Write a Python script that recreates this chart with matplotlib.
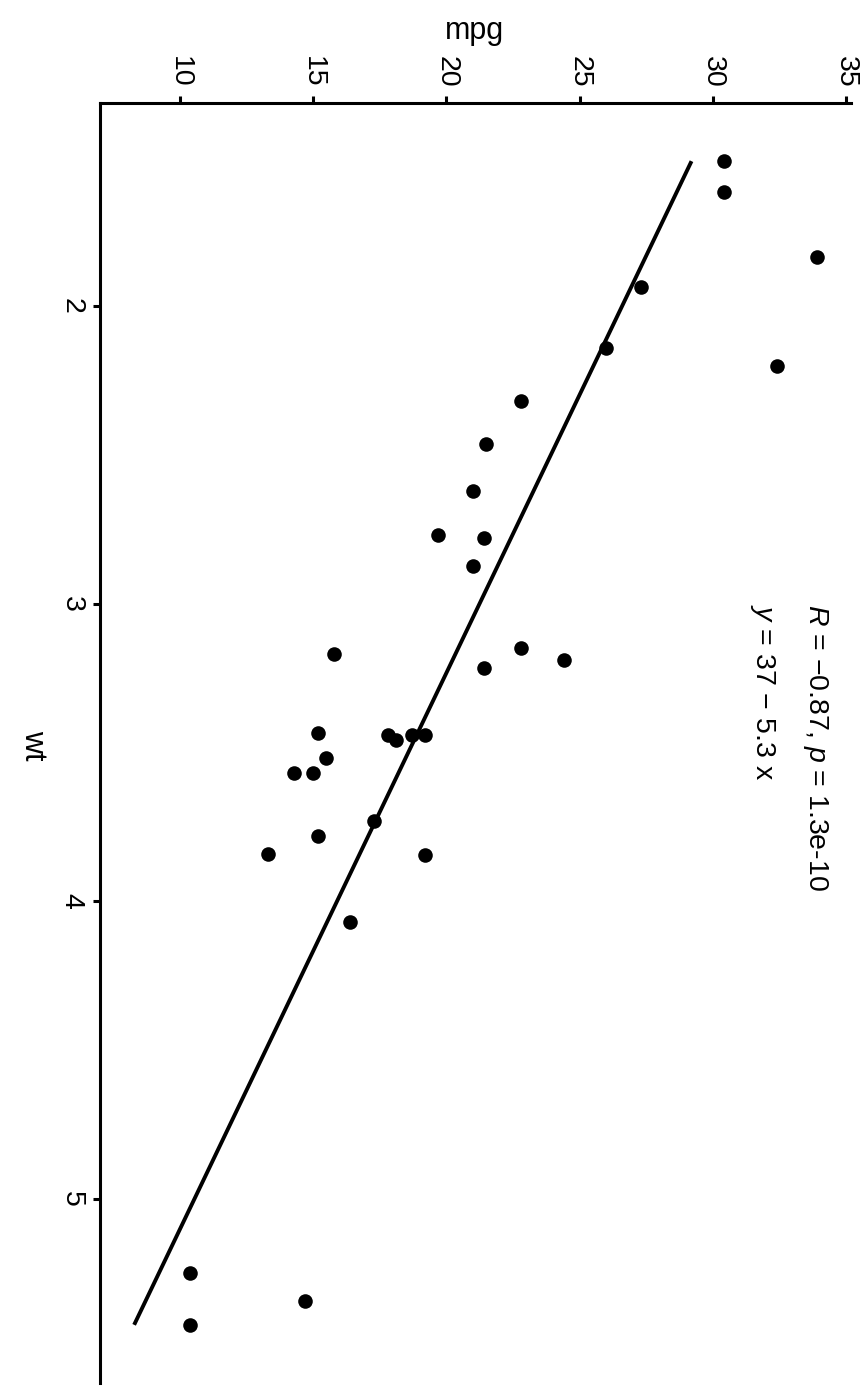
import numpy as np
import matplotlib
matplotlib.use("Agg")
import matplotlib.pyplot as plt

plt.rcParams['font.family'] = ['Liberation Sans', 'DejaVu Sans']
plt.rcParams['mathtext.fontset'] = 'custom'
plt.rcParams['mathtext.rm'] = 'Liberation Sans'
plt.rcParams['mathtext.it'] = 'Liberation Sans:italic'

wt = [2.620, 2.875, 2.320, 3.215, 3.440, 3.460, 3.570, 3.190, 3.150, 3.440,
      3.440, 4.070, 3.730, 3.780, 5.250, 5.424, 5.345, 2.200, 1.615, 1.835,
      2.465, 3.520, 3.435, 3.840, 3.845, 1.935, 2.140, 1.513, 3.170, 2.770,
      3.570, 2.780]
mpg = [21.0, 21.0, 22.8, 21.4, 18.7, 18.1, 14.3, 24.4, 22.8, 19.2,
       17.8, 16.4, 17.3, 15.2, 10.4, 10.4, 14.7, 32.4, 30.4, 33.9,
       21.5, 15.5, 15.2, 13.3, 19.2, 27.3, 26.0, 30.4, 15.8, 19.7,
       15.0, 21.4]
wt_ticks = [2, 3, 4, 5]
mpg_ticks = [10, 15, 20, 25, 30, 35]
label_cor = r'$R$ = −0.87, $p$ = 1.3e-10'
label_eq = r'$y$ = 37 − 5.3 x'

wt_a = np.array(wt)
mpg_a = np.array(mpg)
slope, intercept = np.polyfit(wt_a, mpg_a, 1)
line_wt = np.linspace(wt_a.min(), wt_a.max(), 100)
line_mpg = intercept + slope * line_wt

W, H = 866, 1400
fig = plt.figure(figsize=(W / 100, H / 100), dpi=100)
top_px, bot_px = 103, 1383
ax = fig.add_axes([100 / W, (H - bot_px) / H, (851 - 100) / W, (bot_px - top_px) / H])

# rotated view: mpg horizontal (top), wt vertical (downward)
ax.plot(line_mpg, line_wt, color='black', lw=2.8, solid_capstyle='butt', zorder=2)
ax.scatter(mpg_a, wt_a, s=110, color='black', linewidths=0, zorder=3)

allm = np.concatenate([mpg_a, line_mpg])
mr = allm.max() - allm.min()
ax.set_xlim(allm.min() - 0.05 * mr, allm.max() + 0.05 * mr)
wr = wt_a.max() - wt_a.min()
ax.set_ylim(wt_a.max() + 0.05 * wr, wt_a.min() - 0.05 * wr)

ax.xaxis.tick_top()
ax.set_xticks(mpg_ticks)
ax.set_yticks(wt_ticks)
ax.set_xticklabels([str(t) for t in mpg_ticks], rotation=270, fontsize=20.5,
                   va='bottom', ha='center')
ax.set_yticklabels([str(t) for t in wt_ticks], rotation=270, fontsize=20.5,
                   va='center', ha='right')
ax.tick_params(axis='both', length=5, width=2.2, color='black', pad=6)

for s in ['right', 'bottom']:
    ax.spines[s].set_visible(False)
for s in ['left', 'top']:
    ax.spines[s].set_linewidth(2.2)

fig.text(475 / W, 1 - 31 / H, 'mpg', fontsize=22, ha='center', va='center')
fig.text(33 / W, 1 - 745 / H, 'wt', fontsize=22, rotation=270,
         ha='center', va='center')

ax.text(33.84, 3.0, label_cor, rotation=270, rotation_mode='anchor',
        ha='left', va='center', fontsize=20.5)
ax.text(31.86, 3.0, label_eq, rotation=270, rotation_mode='anchor',
        ha='left', va='center', fontsize=20.5)

fig.savefig('out.png', dpi=100)
